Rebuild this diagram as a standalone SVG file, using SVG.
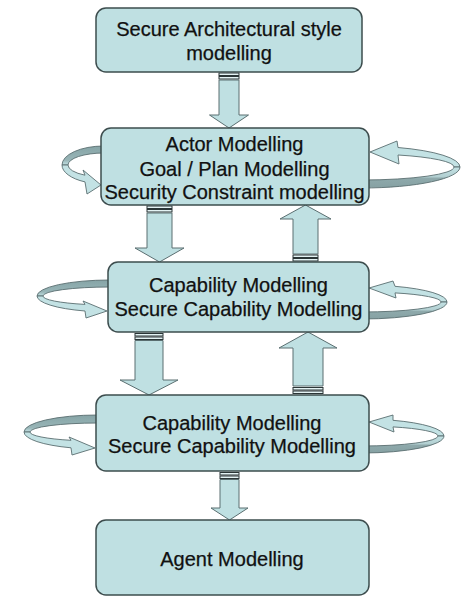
<svg xmlns="http://www.w3.org/2000/svg" width="474" height="597" viewBox="0 0 474 597">
<style>
.box{fill:#bfe0e2;stroke:#3d4d4e;stroke-width:1.5}
.lbl{font-family:"Liberation Sans",Arial,sans-serif;font-size:20px;fill:#111;stroke:#111;stroke-width:0.25;text-anchor:middle}
.arr{fill:#bfe0e2;stroke:#5a6e70;stroke-width:1;stroke-linejoin:miter}
.str{fill:#e4f3f4;stroke:#2a3536;stroke-width:1}
.front{fill:#c3e2e4;stroke:#5a6e70;stroke-width:0.9}
.backL{fill:url(#gL);stroke:#5a6e70;stroke-width:0.9}
.backR{fill:url(#gR);stroke:#5a6e70;stroke-width:0.9}
</style>
<defs>
<linearGradient id="gL" x1="0" y1="0" x2="0" y2="1">
<stop offset="0" stop-color="#86a4a6"/><stop offset="0.75" stop-color="#98b5b7"/><stop offset="1" stop-color="#c3e2e4"/>
</linearGradient>
<linearGradient id="gR" x1="0" y1="0" x2="0" y2="1">
<stop offset="0" stop-color="#c3e2e4"/><stop offset="0.45" stop-color="#b3d0d2"/><stop offset="0.55" stop-color="#8ea9ab"/><stop offset="1" stop-color="#86a1a3"/>
</linearGradient>
</defs>
<rect width="474" height="597" fill="#ffffff"/>
<g id="connectors">
<path class="backL" d="M104,146 A42,19 0 0 0 62,165 L68,165 A36,12 0 0 1 104,153 Z"/>
<path class="front" d="M62,165 A42,19 0 0 0 85,181.9 L87,194 L101,185 L83,170 L85,175.2 A36,12 0 0 1 68,165 Z"/>
<path class="front" d="M398,147.5 A98,21 0 0 1 460,167 L454,167 A92,13 0 0 0 398,155 L399,164 L370,152 L397,141 Z"/>
<path class="backR" d="M460,167 A98,21 0 0 1 362,188 L362,180 A92,13 0 0 0 454,167 Z"/>
<path class="backL" d="M110,280 A73,16 0 0 0 37,296 L43,296 A67,9 0 0 1 110,287 Z"/>
<path class="front" d="M37,296 A73,16 0 0 0 85,311 L86,318 L107,311 L83,301 L85,304.4 A67,9 0 0 1 43,296 Z"/>
<path class="front" d="M395,286.3 A85,17 0 0 1 447,302 L441,302 A79,10 0 0 0 395,292.9 L396,298 L369,288 L393,281 Z"/>
<path class="backR" d="M447,302 A85,17 0 0 1 362,319 L362,312 A79,10 0 0 0 441,302 Z"/>
<path class="backL" d="M98,415 A74,17 0 0 0 24,432 L30,432 A68,9 0 0 1 98,423 Z"/>
<path class="front" d="M24,432 A74,17 0 0 0 71,447.8 L72,455 L95,448 L69,437 L71,440.3 A68,9 0 0 1 30,432 Z"/>
<path class="front" d="M393,420.3 A82,17 0 0 1 444,436 L438,436 A76,10 0 0 0 393,426.9 L394,432 L369,422 L393,415 Z"/>
<path class="backR" d="M444,436 A82,17 0 0 1 362,453 L362,446 A76,10 0 0 0 438,436 Z"/>
<g id="a1">
<rect class="str" x="219" y="73" width="20" height="2.5"/>
<rect class="str" x="219" y="76.5" width="20" height="2.5"/>
<path class="arr" d="M219,80 H239 V115 H248.5 L229,128 L209.5,115 H219 Z"/>
</g>
<g id="a2">
<rect class="str" x="147" y="206" width="25" height="2.5"/>
<rect class="str" x="147" y="209.5" width="25" height="2.5"/>
<path class="arr" d="M147,213 H172 V248 H184 L159.5,262 L135,248 H147 Z"/>
</g>
<g id="a3">
<path class="arr" d="M293,254 V219 H280 L305.5,205 L331,219 H318 V254 Z"/>
<rect class="str" x="293" y="255" width="25" height="2.5"/>
<rect class="str" x="293" y="258.5" width="25" height="2.5"/>
</g>
<g id="a4">
<rect class="str" x="135" y="333.5" width="28" height="2.5"/>
<rect class="str" x="135" y="337" width="28" height="2.5"/>
<path class="arr" d="M135,340.5 H163 V380 H178 L149,395 L120,380 H135 Z"/>
</g>
<g id="a5">
<path class="arr" d="M293,386 V348 H279 L308,332 L337,348 H323 V386 Z"/>
<rect class="str" x="293" y="387.5" width="30" height="2.5"/>
<rect class="str" x="293" y="391" width="30" height="2.5"/>
</g>
<g id="a6">
<rect class="str" x="220" y="472.5" width="19" height="2.5"/>
<rect class="str" x="220" y="476" width="19" height="2.5"/>
<path class="arr" d="M220,479.5 H239 V508 H248 L229.5,520 L211,508 H220 Z"/>
</g>
</g>
<g id="node1">
<rect class="box" x="96" y="8" width="266" height="64" rx="10"/>
<text class="lbl" x="229" y="36">Secure Architectural style</text>
<text class="lbl" x="229" y="60">modelling</text>
</g>
<g id="node2">
<rect class="box" x="101" y="128" width="268" height="77" rx="10"/>
<text class="lbl" x="234.5" y="151">Actor Modelling</text>
<text class="lbl" x="234.5" y="176">Goal / Plan Modelling</text>
<text class="lbl" x="234.5" y="199">Security Constraint modelling</text>
</g>
<g id="node3">
<rect class="box" x="108" y="262" width="261" height="70" rx="10"/>
<text class="lbl" x="238.5" y="292">Capability Modelling</text>
<text class="lbl" x="238.5" y="316">Secure Capability Modelling</text>
</g>
<g id="node4">
<rect class="box" x="96" y="395" width="273" height="76" rx="10"/>
<text class="lbl" x="232" y="430">Capability Modelling</text>
<text class="lbl" x="232" y="453">Secure Capability Modelling</text>
</g>
<g id="node5">
<rect class="box" x="96" y="520" width="273" height="75" rx="10"/>
<text class="lbl" x="232" y="566">Agent Modelling</text>
</g>
</svg>
